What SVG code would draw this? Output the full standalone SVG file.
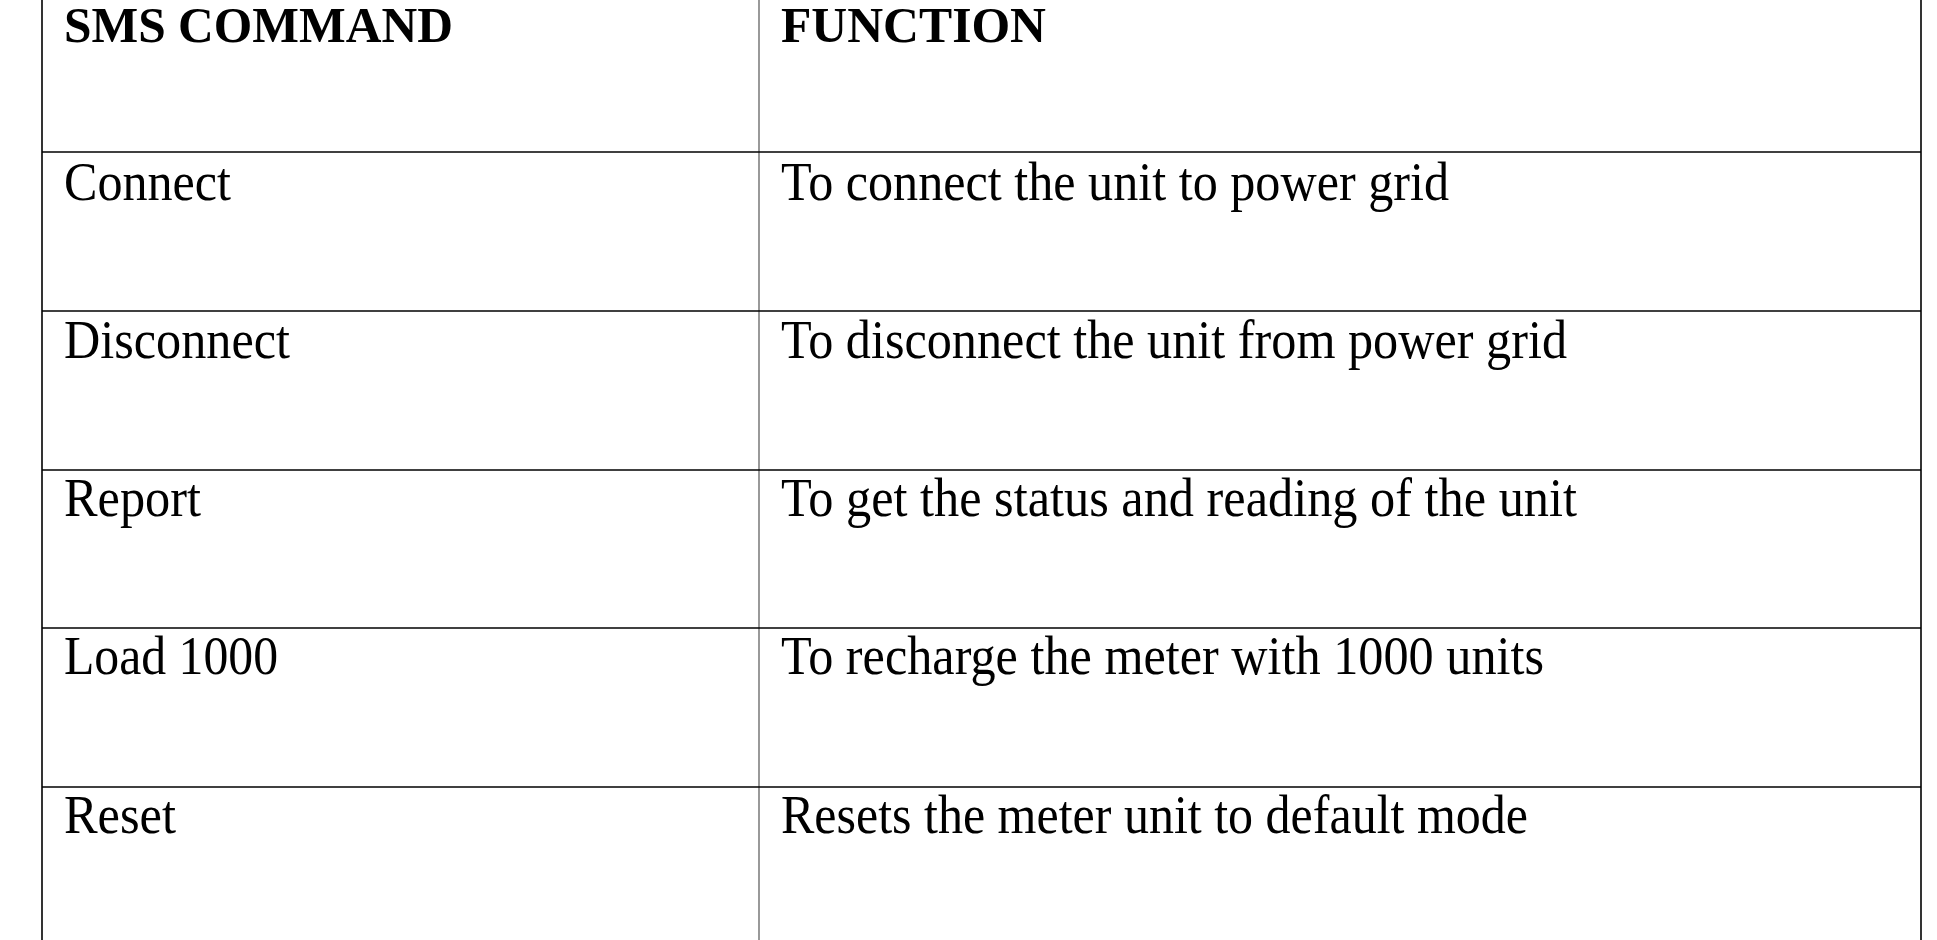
<svg xmlns="http://www.w3.org/2000/svg" width="1937" height="940" viewBox="0 0 1937 940">
<style>
text{font-family:"Liberation Serif","DejaVu Serif",serif;font-size:55px;fill:#000}
.b{font-weight:bold;font-size:50px}
.l{stroke:#000;stroke-width:1.6}
.g{stroke:#808080;stroke-width:1.6}
</style>
<rect width="1937" height="940" fill="#fff"/>
<g id="grid">
<line class="l" x1="42" y1="0" x2="42" y2="940"/>
<line class="g" x1="759" y1="0" x2="759" y2="940"/>
<line class="l" x1="1921" y1="0" x2="1921" y2="940"/>
<line class="l" x1="42" y1="152" x2="1921" y2="152"/>
<line class="l" x1="42" y1="311" x2="1921" y2="311"/>
<line class="l" x1="42" y1="470" x2="1921" y2="470"/>
<line class="l" x1="42" y1="628" x2="1921" y2="628"/>
<line class="l" x1="42" y1="787" x2="1921" y2="787"/>
</g>
<g id="header">
<text class="b" x="64" y="42" textLength="389" lengthAdjust="spacingAndGlyphs">SMS COMMAND</text>
<text class="b" x="781" y="42" textLength="265" lengthAdjust="spacingAndGlyphs">FUNCTION</text>
</g>
<g id="row1">
<text x="64" y="200" textLength="167" lengthAdjust="spacingAndGlyphs">Connect</text>
<text x="781" y="200" textLength="668" lengthAdjust="spacingAndGlyphs">To connect the unit to power grid</text>
</g>
<g id="row2">
<text x="64" y="358" textLength="226" lengthAdjust="spacingAndGlyphs">Disconnect</text>
<text x="781" y="358" textLength="786" lengthAdjust="spacingAndGlyphs">To disconnect the unit from power grid</text>
</g>
<g id="row3">
<text x="64" y="516" textLength="137" lengthAdjust="spacingAndGlyphs">Report</text>
<text x="781" y="516" textLength="796" lengthAdjust="spacingAndGlyphs">To get the status and reading of the unit</text>
</g>
<g id="row4">
<text x="64" y="674" textLength="214" lengthAdjust="spacingAndGlyphs">Load 1000</text>
<text x="781" y="674" textLength="763" lengthAdjust="spacingAndGlyphs">To recharge the meter with 1000 units</text>
</g>
<g id="row5">
<text x="64" y="833" textLength="112" lengthAdjust="spacingAndGlyphs">Reset</text>
<text x="781" y="833" textLength="747" lengthAdjust="spacingAndGlyphs">Resets the meter unit to default mode</text>
</g>
</svg>
